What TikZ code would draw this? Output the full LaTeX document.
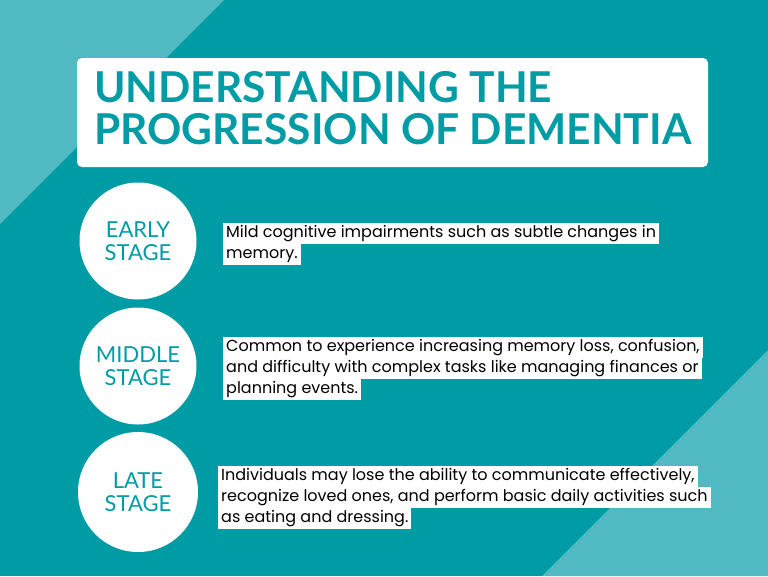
\documentclass[tikz,border=0pt]{standalone}
\usepackage{fontspec}
\setmainfont{Poppins}
\newfontfamily\lato{Lato}
\definecolor{bg}{HTML}{009CA6}
\definecolor{lt}{HTML}{50B9C1}
\begin{document}
\begin{tikzpicture}[x=1pt,y=-1pt,
  hl/.style={fill=white,anchor=north west,inner xsep=3pt,inner ysep=0pt,minimum height=20.5pt,text height=12pt,text depth=4pt,font=\fontsize{16}{17}\selectfont\color{black},align=left},
  circ/.style={circle,fill=white,minimum size=117pt,inner sep=0pt,align=center,font=\lato\fontsize{22}{23}\selectfont\color{bg}}]
\useasboundingbox (0,0) rectangle (768,576);
\fill[bg] (0,0) rectangle (768,576);
\fill[lt] (0,0) -- (224,0) -- (0,224) -- cycle;
\fill[lt] (768,576) -- (768,350) -- (542,576) -- cycle;
\fill[white,rounded corners=5pt] (77,58) rectangle (708,167);
\node[anchor=north west,inner sep=0pt,align=left,font=\lato\bfseries\fontsize{42.5}{42}\selectfont\color{bg}] (title) at (94,71) {UNDERSTANDING THE\\PROGRESSION OF DEMENTIA};
\node[circ] (c1) at (138,241) {EARLY\\STAGE};
\node[circ] (c2) at (138,366) {MIDDLE\\STAGE};
\node[circ,minimum size=120pt] (c3) at (138,492) {LATE\\STAGE};
\node[hl] (a1) at (223,223) {Mild cognitive impairments such as subtle changes in};
\node[hl] (a2) at (a1.south west) {memory.};
\node[hl] (b1) at (223,337) {Common to experience increasing memory loss, confusion,};
\node[hl] (b2) at (b1.south west) {and difficulty with complex tasks like managing finances or};
\node[hl] (b3) at (b2.south west) {planning events.};
\node[hl] (d1) at (218,466) {Individuals may lose the ability to communicate effectively,};
\node[hl] (d2) at (d1.south west) {recognize loved ones, and perform basic daily activities such};
\node[hl] (d3) at (d2.south west) {as eating and dressing.};
\end{tikzpicture}
\end{document}
